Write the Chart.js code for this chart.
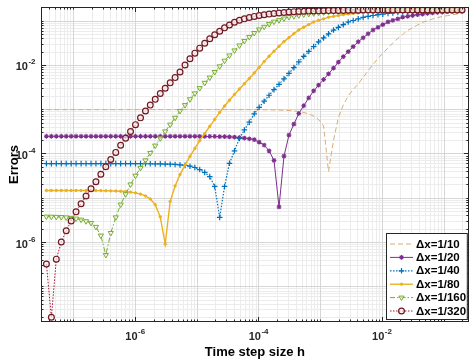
<!DOCTYPE html>
<html><head><meta charset="utf-8">
<script src="https://cdn.jsdelivr.net/npm/chart.js@4.4.1/dist/chart.umd.min.js"></script>
<style>html,body{margin:0;padding:0;background:#fff}canvas{display:block}</style>
</head><body>
<canvas id="c" width="474" height="363"></canvas>
<script>
// time step sizes h
const stepSizes = [
 3.67e-8,4.42e-8,5.31e-8,6.40e-8,7.69e-8,9.25e-8,1.11e-7,1.34e-7,1.61e-7,1.94e-7,
 2.33e-7,2.80e-7,3.37e-7,4.05e-7,4.88e-7,5.86e-7,7.05e-7,8.47e-7,1.02e-6,1.23e-6,
 1.48e-6,1.77e-6,2.13e-6,2.57e-6,3.09e-6,3.72e-6,4.47e-6,5.37e-6,6.47e-6,7.78e-6,
 9.35e-6,1.12e-5,1.35e-5,1.63e-5,1.96e-5,2.36e-5,2.83e-5,3.40e-5,4.10e-5,4.93e-5,
 5.93e-5,7.13e-5,8.57e-5,1.03e-4,1.24e-4,1.49e-4,1.79e-4,2.16e-4,2.60e-4,3.13e-4,
 3.76e-4,4.52e-4,5.43e-4,6.55e-4,7.87e-4,9.46e-4,1.14e-3,1.37e-3,1.65e-3,1.98e-3,
 2.38e-3,2.86e-3,3.44e-3,4.15e-3,4.99e-3,6.00e-3,7.21e-3,8.67e-3,1.04e-2,1.26e-2,
 1.51e-2,1.82e-2,2.18e-2,2.63e-2,3.16e-2,3.80e-2,4.57e-2,5.50e-2,6.62e-2,7.96e-2,
 9.57e-2,0.115,0.138,0.167,0.200];

const errDx10 = [
 9.8e-4,9.8e-4,9.8e-4,9.8e-4,9.8e-4,9.8e-4,9.8e-4,9.8e-4,9.8e-4,9.8e-4,
 9.8e-4,9.8e-4,9.8e-4,9.8e-4,9.8e-4,9.8e-4,9.8e-4,9.8e-4,9.8e-4,9.8e-4,
 9.8e-4,9.8e-4,9.8e-4,9.8e-4,9.8e-4,9.8e-4,9.8e-4,9.8e-4,9.8e-4,9.8e-4,
 9.8e-4,9.8e-4,9.8e-4,9.8e-4,9.8e-4,9.8e-4,9.8e-4,9.8e-4,9.8e-4,9.79e-4,
 9.78e-4,9.78e-4,9.77e-4,9.75e-4,9.73e-4,9.7e-4,9.65e-4,9.59e-4,9.49e-4,9.35e-4,
 9.16e-4,8.87e-4,8.45e-4,7.85e-4,6.97e-4,5.84e-4,4.2e-4,3.9e-5,2.0e-4,6.5e-4,
 1.25e-3,2.0e-3,2.8e-3,3.72e-3,5.26e-3,7.4e-3,1.03e-2,1.4e-2,1.85e-2,2.42e-2,
 3.14e-2,3.98e-2,4.9e-2,6.03e-2,6.93e-2,7.98e-2,9.18e-2,0.100,0.109,0.118,
 0.124,0.130,0.136,0.141,0.145];

const errDx20 = [
 2.45e-4,2.45e-4,2.45e-4,2.45e-4,2.45e-4,2.45e-4,2.45e-4,2.45e-4,2.45e-4,2.45e-4,
 2.45e-4,2.45e-4,2.45e-4,2.45e-4,2.45e-4,2.45e-4,2.45e-4,2.45e-4,2.45e-4,2.45e-4,
 2.45e-4,2.45e-4,2.45e-4,2.45e-4,2.45e-4,2.45e-4,2.45e-4,2.45e-4,2.45e-4,2.45e-4,
 2.45e-4,2.44e-4,2.44e-4,2.43e-4,2.43e-4,2.41e-4,2.40e-4,2.38e-4,2.34e-4,2.29e-4,
 2.22e-4,2.15e-4,2.05e-4,1.8e-4,1.55e-4,1.15e-4,7.0e-5,6.2e-6,8.7e-5,2.6e-4,
 4.6e-4,8.0e-4,1.2e-3,1.8e-3,2.6e-3,3.5e-3,4.7e-3,6.3e-3,8.5e-3,1.16e-2,
 1.54e-2,2.0e-2,2.6e-2,3.35e-2,4.12e-2,5.07e-2,6.17e-2,7.1e-2,8.17e-2,9.37e-2,
 0.102,0.110,0.120,0.125,0.131,0.137,0.141,0.146,0.150,0.154,
 0.157,0.161,0.163,0.164,0.165];

const errDx40 = [
 5.9e-5,5.9e-5,5.9e-5,5.9e-5,5.9e-5,5.9e-5,5.9e-5,5.9e-5,5.9e-5,5.9e-5,
 5.9e-5,5.9e-5,5.9e-5,5.9e-5,5.9e-5,5.9e-5,5.9e-5,5.9e-5,5.9e-5,5.9e-5,
 5.87e-5,5.86e-5,5.84e-5,5.82e-5,5.78e-5,5.73e-5,5.65e-5,5.54e-5,5.39e-5,5.16e-5,
 4.82e-5,4.34e-5,3.75e-5,3.0e-5,1.8e-5,3.6e-6,1.8e-5,6.0e-5,1.15e-4,2.2e-4,
 3.4e-4,5.1e-4,7.88e-4,1.105e-3,1.52e-3,2.07e-3,2.77e-3,3.66e-3,4.84e-3,6.46e-3,
 8.69e-3,1.175e-2,1.56e-2,2.02e-2,2.61e-2,3.34e-2,4.1e-2,5.05e-2,6.15e-2,7.08e-2,
 8.15e-2,9.35e-2,0.101,0.110,0.119,0.125,0.131,0.137,0.141,0.146,
 0.150,0.154,0.157,0.161,0.163,0.164,0.165,0.166,0.168,0.169,
 0.170,0.171,0.171,0.172,0.173];

const errDx80 = [
 1.46e-5,1.46e-5,1.46e-5,1.46e-5,1.46e-5,1.46e-5,1.46e-5,1.46e-5,1.46e-5,1.46e-5,
 1.45e-5,1.45e-5,1.44e-5,1.43e-5,1.42e-5,1.40e-5,1.38e-5,1.34e-5,1.29e-5,1.21e-5,
 1.10e-5,9.4e-6,7.0e-6,3.7e-6,9.0e-7,8.3e-6,1.85e-5,3.34e-5,5.47e-5,8.6e-5,
 1.30e-4,1.95e-4,2.83e-4,4.1e-4,5.9e-4,8.5e-4,1.18e-3,1.6e-3,2.16e-3,2.87e-3,
 3.78e-3,4.95e-3,6.6e-3,8.87e-3,1.19e-2,1.58e-2,2.04e-2,2.64e-2,3.37e-2,4.15e-2,
 5.09e-2,6.18e-2,7.13e-2,8.18e-2,9.38e-2,0.102,0.110,0.120,0.125,0.131,
 0.137,0.142,0.146,0.150,0.154,0.157,0.161,0.163,0.164,0.165,
 0.167,0.168,0.169,0.170,0.171,0.171,0.172,0.173,0.173,0.174,
 0.174,0.174,0.174,0.174,0.174];

const errDx160 = [
 3.75e-6,3.73e-6,3.7e-6,3.66e-6,3.6e-6,3.5e-6,3.38e-6,3.2e-6,2.95e-6,2.7e-6,
 2.2e-6,1.4e-6,5.1e-7,1.6e-6,3.6e-6,7.0e-6,1.2e-5,2.0e-5,3.15e-5,4.73e-5,
 7.0e-5,1.03e-4,1.51e-4,2.2e-4,3.16e-4,4.49e-4,6.41e-4,9.14e-4,1.24e-3,1.68e-3,
 2.28e-3,3.0e-3,3.95e-3,5.19e-3,6.93e-3,9.31e-3,1.25e-2,1.64e-2,2.13e-2,2.76e-2,
 3.49e-2,4.29e-2,5.27e-2,6.34e-2,7.29e-2,8.39e-2,9.51e-2,0.103,0.112,0.121,
 0.126,0.132,0.138,0.142,0.147,0.151,0.154,0.158,0.161,0.163,
 0.164,0.166,0.167,0.168,0.169,0.170,0.171,0.171,0.172,0.173,
 0.173,0.174,0.174,0.174,0.174,0.174,0.174,0.174,0.174,0.174,
 0.174,0.174,0.174,0.174,0.174];

const errDx320 = [
 3.2e-7,2.0e-8,4.1e-7,1.0e-6,1.8e-6,3.0e-6,4.8e-6,7.3e-6,1.1e-5,1.6e-5,
 2.3e-5,3.4e-5,5.0e-5,7.3e-5,1.06e-4,1.54e-4,2.22e-4,3.15e-4,4.48e-4,6.38e-4,
 9.1e-4,1.24e-3,1.67e-3,2.26e-3,2.99e-3,3.94e-3,5.18e-3,6.92e-3,1.0e-2,1.38e-2,
 1.85e-2,2.4e-2,3.1e-2,3.9e-2,4.8e-2,5.8e-2,6.9e-2,8.0e-2,9.2e-2,0.102,
 0.110,0.118,0.125,0.131,0.136,0.141,0.145,0.149,0.153,0.157,
 0.160,0.162,0.164,0.165,0.166,0.167,0.168,0.169,0.170,0.171,
 0.171,0.172,0.173,0.173,0.174,0.174,0.174,0.174,0.174,0.174,
 0.174,0.174,0.174,0.174,0.174,0.174,0.174,0.174,0.174,0.174,
 0.174,0.174,0.174,0.174,0.174];

const seriesLabels = ['\u0394x=1/10','\u0394x=1/20','\u0394x=1/40','\u0394x=1/80','\u0394x=1/160','\u0394x=1/320'];
const seriesValues = [errDx10, errDx20, errDx40, errDx80, errDx160, errDx320];
const xTickExponents = [-6, -4, -2];
const yTickExponents = [-6, -4, -2];
const xTitle = 'Time step size h';
const yTitle = 'Errors';

const seriesStyles = [
  {color:'#D9AD74', dash:[5,3], width:1, point:false},
  {color:'#7E2F8E', dash:[], width:1, pointStyle:'star', radius:2.4, pw:1.1, pbg:'#7E2F8E'},
  {color:'#0072BD', dash:[1.5,1.5], width:1.2, pointStyle:'cross', radius:2.8, pw:1.2, pbg:'#0072BD'},
  {color:'#EDB120', dash:[], width:1.4, pointStyle:'circle', radius:1.2, pw:1, pbg:'#EDB120'},
  {color:'#77AC30', dash:[5,2,1.5,2], width:1, pointStyle:'triangle', rotation:180, radius:3, pw:1, pbg:'rgba(255,255,255,0.6)'},
  {color:'#A2142F', dash:[1.5,1.5], width:1, pointStyle:'circle', radius:2.9, pw:1.2, pbc:'#6e1a22', pbg:'rgba(255,235,235,0.7)'}
];

const FONT = '"Liberation Sans", Arial, Helvetica, sans-serif';

const datasets = seriesValues.map((vals, i) => {
  const s = seriesStyles[i];
  return {
    label: seriesLabels[i],
    data: stepSizes.map((h, k) => ({x: h, y: vals[k]})),
    borderColor: s.color,
    borderWidth: s.width,
    borderDash: s.dash,
    backgroundColor: s.pbg || s.color,
    pointStyle: s.point === false ? false : s.pointStyle,
    pointRadius: s.point === false ? 0 : s.radius,
    pointRotation: s.rotation || 0,
    pointBorderWidth: s.pw || 1,
    pointBorderColor: s.pbc || s.color,
    pointBackgroundColor: s.pbg || s.color,
    fill: false,
    tension: 0,
    order: 6 - i
  };
});

function logTicks(scale) {
  const out = [];
  const lo = Math.floor(Math.log10(scale.min)), hi = Math.ceil(Math.log10(scale.max));
  for (let d = lo; d <= hi; d++) {
    for (let m = 1; m < 10; m++) {
      const v = m * Math.pow(10, d);
      if (v >= scale.min && v <= scale.max) out.push({v, m, d});
    }
  }
  return out;
}

function drawPow(ctx, exp, x, baseline, align) {
  const f1 = 'bold 11px ' + FONT, f2 = 'bold 8px ' + FONT;
  ctx.font = f1; const w1 = ctx.measureText('10').width;
  const sup = '-' + Math.abs(exp);
  ctx.font = f2; const w2 = ctx.measureText(sup).width;
  const total = w1 + w2;
  let x0 = align === 'center' ? x - total / 2 : x - total;
  ctx.fillStyle = '#262626';
  ctx.textAlign = 'left'; ctx.textBaseline = 'alphabetic';
  ctx.font = f1; ctx.fillText('10', x0, baseline);
  ctx.font = f2; ctx.fillText(sup, x0 + w1 + 0.5, baseline - 6);
}

const matlabFrame = {
  id: 'matlabFrame',
  beforeDraw(chart) {
    const ctx = chart.ctx;
    ctx.save(); ctx.fillStyle = '#fff'; ctx.fillRect(0, 0, chart.width, chart.height); ctx.restore();
  },
  beforeDatasetsDraw(chart) {
    const ctx = chart.ctx, a = chart.chartArea;
    const xs = chart.scales.x, ys = chart.scales.y;
    ctx.save();
    ctx.lineWidth = 1;
    // minor first, then major
    [false, true].forEach(major => {
      ctx.strokeStyle = major ? '#d6d6d6' : '#ececec';
      logTicks(xs).forEach(t => {
        if ((t.m === 1) !== major) return;
        const p = Math.round(xs.getPixelForValue(t.v)) + 0.5;
        ctx.beginPath(); ctx.moveTo(p, a.top); ctx.lineTo(p, a.bottom); ctx.stroke();
      });
      logTicks(ys).forEach(t => {
        if ((t.m === 1) !== major) return;
        const p = Math.round(ys.getPixelForValue(t.v)) + 0.5;
        ctx.beginPath(); ctx.moveTo(a.left, p); ctx.lineTo(a.right, p); ctx.stroke();
      });
    });
    ctx.restore();
  },
  afterDatasetsDraw(chart) {
    const ctx = chart.ctx, a = chart.chartArea;
    const xs = chart.scales.x, ys = chart.scales.y;
    ctx.save();
    // box
    ctx.strokeStyle = '#262626'; ctx.lineWidth = 1;
    ctx.strokeRect(Math.round(a.left) + 0.5, Math.round(a.top) + 0.5, Math.round(a.right - a.left) - 1, Math.round(a.bottom - a.top) - 1);
    // ticks (inward, all sides)
    ctx.beginPath();
    logTicks(xs).forEach(t => {
      const p = Math.round(xs.getPixelForValue(t.v)) + 0.5;
      const len = (t.m === 1 && xTickExponents.includes(t.d)) ? 5 : 2.5;
      ctx.moveTo(p, a.bottom); ctx.lineTo(p, a.bottom - len);
      ctx.moveTo(p, a.top); ctx.lineTo(p, a.top + len);
    });
    logTicks(ys).forEach(t => {
      const p = Math.round(ys.getPixelForValue(t.v)) + 0.5;
      const len = (t.m === 1 && yTickExponents.includes(t.d)) ? 5 : 2.5;
      ctx.moveTo(a.left, p); ctx.lineTo(a.left + len, p);
      ctx.moveTo(a.right, p); ctx.lineTo(a.right - len, p);
    });
    ctx.stroke();
    // tick labels
    xTickExponents.forEach(e => {
      const p = xs.getPixelForValue(Math.pow(10, e));
      drawPow(ctx, e, p, a.bottom + 18, 'center');
    });
    yTickExponents.forEach(e => {
      const p = ys.getPixelForValue(Math.pow(10, e));
      drawPow(ctx, e, a.left - 6, p + 5.5, 'right');
    });
    // axis titles
    ctx.fillStyle = '#000';
    ctx.font = 'bold 13px ' + FONT;
    ctx.textAlign = 'center'; ctx.textBaseline = 'alphabetic';
    ctx.fillText(xTitle, (a.left + a.right) / 2, a.bottom + 34);
    ctx.save();
    ctx.translate(a.left - 23, (a.top + a.bottom) / 2);
    ctx.rotate(-Math.PI / 2);
    ctx.fillText(yTitle, 0, 0);
    ctx.restore();
    // legend
    const bx0 = 386.5, by0 = 233.5, bx1 = a.right - 1.5, by1 = a.bottom - 2.5;
    ctx.fillStyle = '#fff';
    ctx.fillRect(bx0, by0, bx1 - bx0, by1 - by0);
    ctx.strokeStyle = '#262626'; ctx.lineWidth = 1;
    ctx.strokeRect(bx0, by0, bx1 - bx0, by1 - by0);
    chart.data.datasets.forEach((ds, i) => {
      const s = seriesStyles[i];
      const yy = by0 + 10.5 + i * 13.4;
      ctx.save();
      ctx.strokeStyle = s.color; ctx.lineWidth = s.width; ctx.setLineDash(s.dash);
      ctx.beginPath(); ctx.moveTo(390, yy); ctx.lineTo(413, yy); ctx.stroke();
      ctx.setLineDash([]);
      if (s.point !== false) {
        ctx.strokeStyle = s.pbc || s.color; ctx.fillStyle = s.pbg || s.color; ctx.lineWidth = s.pw || 1;
        Chart.helpers.drawPoint(ctx, {pointStyle: s.pointStyle, rotation: s.rotation || 0, radius: s.radius, borderWidth: s.pw || 1}, 401.5, yy);
      }
      ctx.restore();
      ctx.fillStyle = '#000';
      ctx.font = 'bold 11.5px ' + FONT;
      ctx.textAlign = 'left'; ctx.textBaseline = 'middle';
      ctx.fillText(ds.label, 416, yy + 0.5);
    });
    ctx.restore();
  }
};

new Chart(document.getElementById('c'), {
  type: 'line',
  data: {datasets},
  options: {
    responsive: false,
    animation: false,
    devicePixelRatio: 1,
    layout: {padding: {left: 41, top: 7, right: 5, bottom: 41}},
    scales: {
      x: {type: 'logarithmic', min: 3.3e-8, max: 0.257, display: false},
      y: {type: 'logarithmic', min: 1.56e-8, max: 0.204, display: false}
    },
    plugins: {legend: {display: false}, tooltip: {enabled: false}},
    elements: {line: {tension: 0}}
  },
  plugins: [matlabFrame]
});
</script>
</body></html>
